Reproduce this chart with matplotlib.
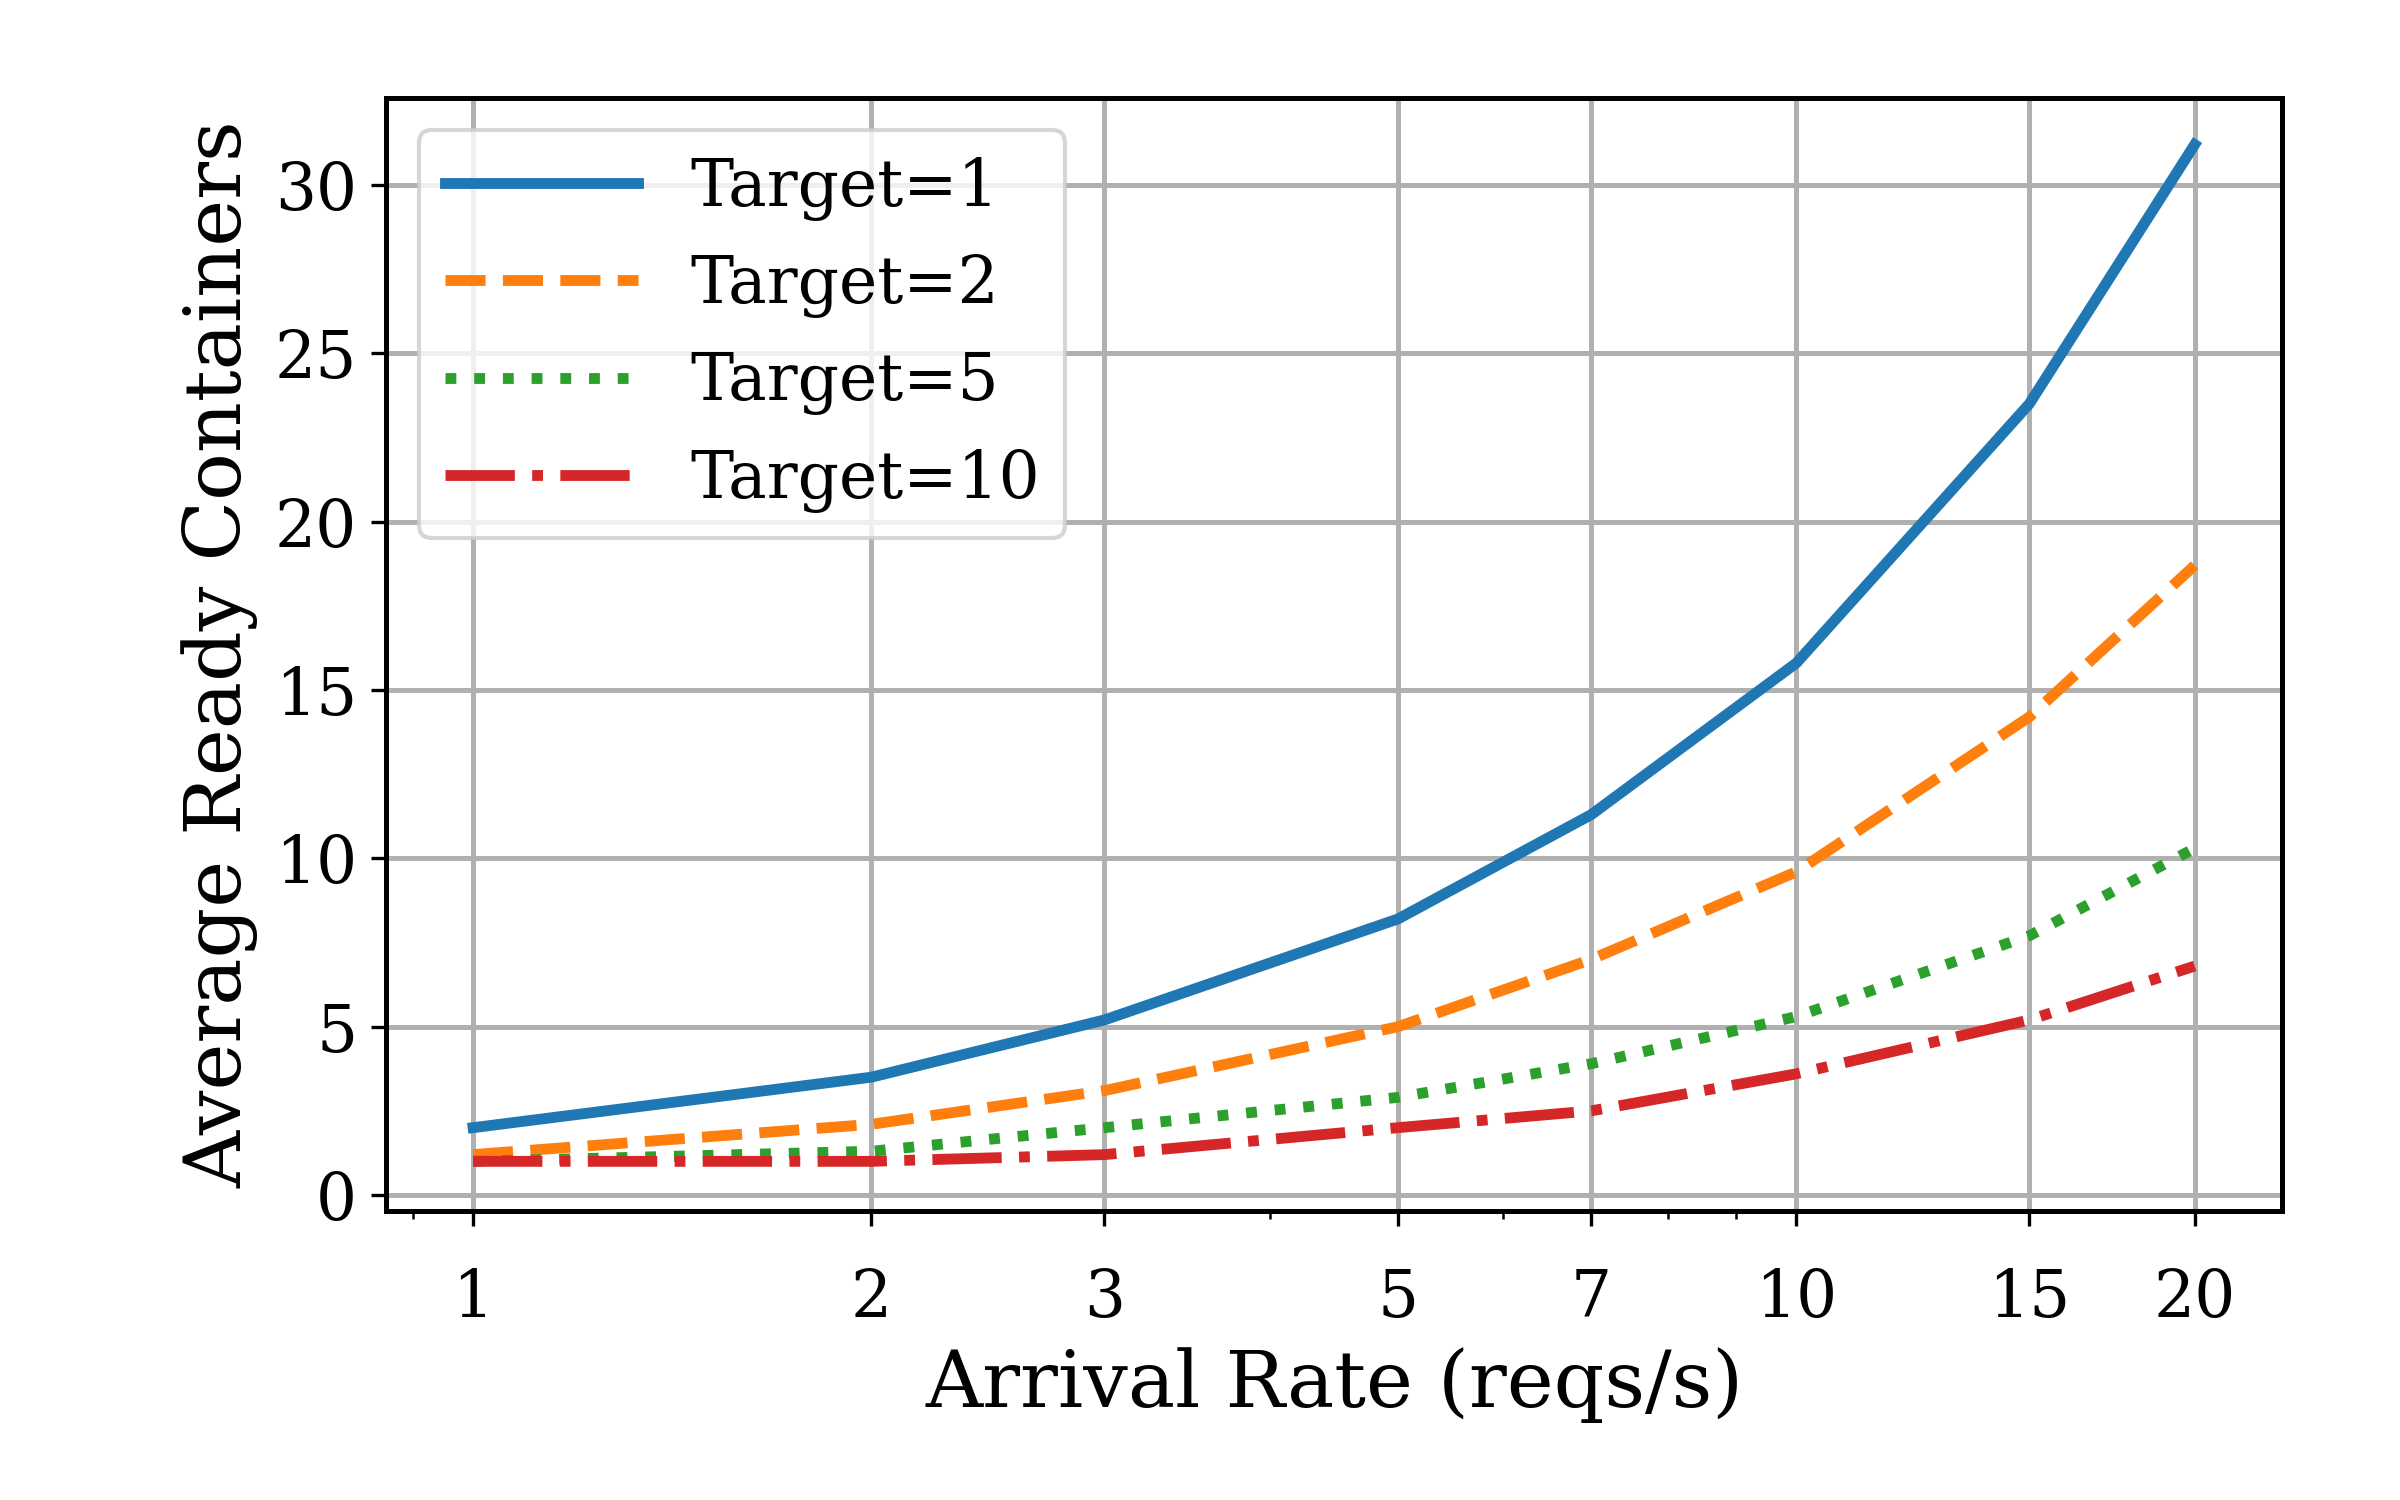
import matplotlib
matplotlib.use("Agg")
import matplotlib.pyplot as plt
from matplotlib.ticker import FixedLocator, FixedFormatter, NullFormatter

plt.rcParams['font.family'] = 'DejaVu Serif'

rates = [1, 2, 3, 5, 7, 10, 15, 20]
target_1 = [2.0, 3.5, 5.2, 8.2, 11.3, 15.8, 23.5, 31.2]
target_2 = [1.2, 2.1, 3.1, 5.0, 7.0, 9.6, 14.2, 18.7]
target_5 = [1.0, 1.3, 2.0, 2.9, 3.9, 5.3, 7.7, 10.3]
target_10 = [1.0, 1.0, 1.2, 2.0, 2.5, 3.6, 5.2, 6.8]

fig = plt.figure(figsize=(8, 5), dpi=300)
ax = fig.add_axes([0.161, 0.193, 0.79, 0.742])

lw = 2.6
ax.plot(rates, target_1, '-', color='#1f77b4', lw=lw, label='Target=1')
ax.plot(rates, target_2, '--', color='#ff7f0e', lw=lw, label='Target=2')
ax.plot(rates, target_5, ':', color='#2ca02c', lw=lw, label='Target=5')
ax.plot(rates, target_10, '-.', color='#d62728', lw=lw, label='Target=10')

ax.set_xscale('log')
ax.xaxis.set_major_locator(FixedLocator(rates))
ax.xaxis.set_major_formatter(FixedFormatter([str(r) for r in rates]))
ax.xaxis.set_minor_formatter(NullFormatter())
ax.set_xlim(0.86, 23.3)
ax.set_ylim(-0.46, 32.6)
ax.set_yticks([0, 5, 10, 15, 20, 25, 30])

ax.grid(True, which='major', color='#b0b0b0', lw=1.2)
ax.tick_params(labelsize=15.5)
ax.tick_params(axis='x', pad=10)
ax.set_xlabel('Arrival Rate (reqs/s)', fontsize=19)
ax.set_ylabel('Average Ready Containers', fontsize=19)
for s in ax.spines.values():
    s.set_linewidth(1.2)

ax.legend(loc='upper left', fontsize=15.5, handlelength=3)

fig.savefig('out.png', dpi=300)
